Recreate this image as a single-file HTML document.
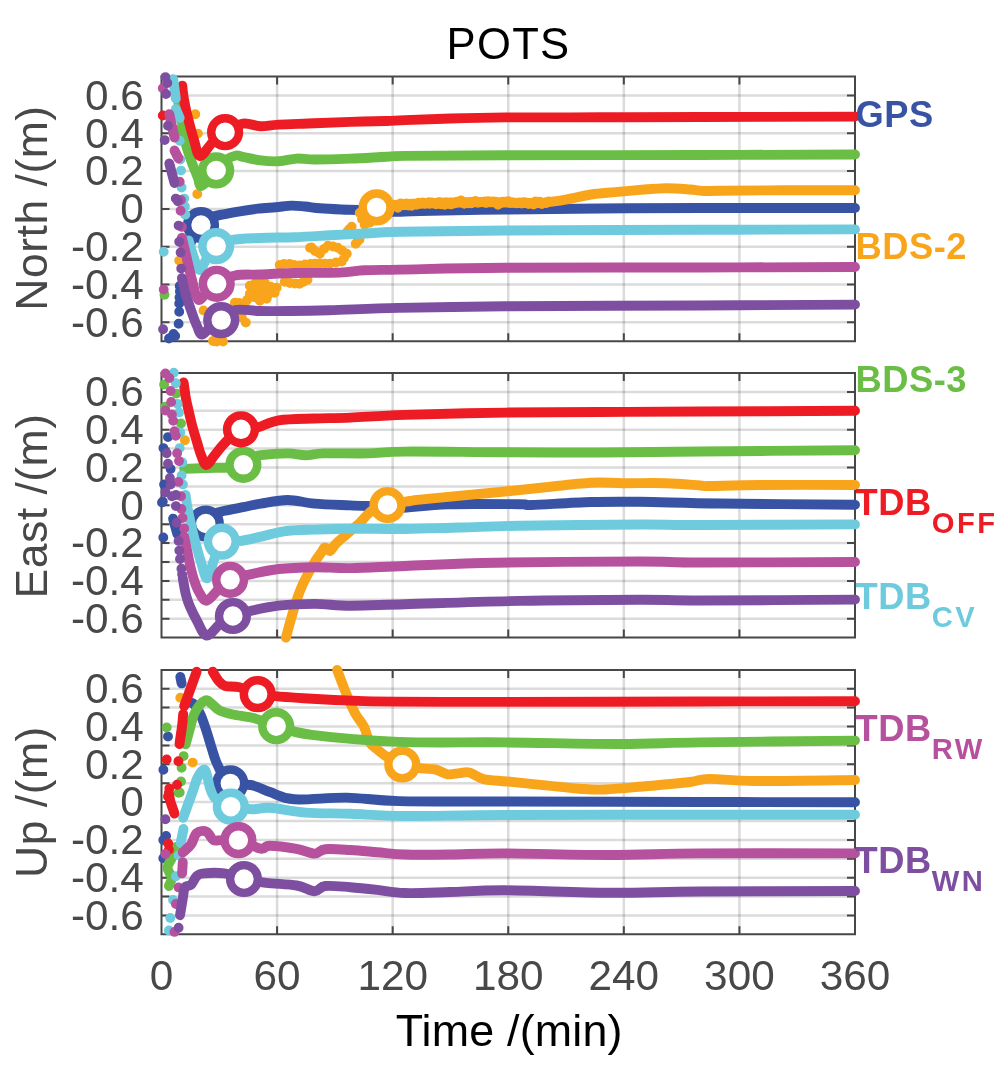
<!DOCTYPE html>
<html><head><meta charset="utf-8"><title>POTS</title>
<style>html,body{margin:0;padding:0;background:#fff;width:1005px;height:1078px;overflow:hidden}
svg{display:block;font-family:"Liberation Sans",sans-serif;will-change:transform}</style></head><body>
<svg width="1005" height="1078" viewBox="0 0 1005 1078">
<rect width="100%" height="100%" fill="#fff"/>
<path d="M277.08 76.60V341.20M392.67 76.60V341.20M508.25 76.60V341.20M623.83 76.60V341.20M739.42 76.60V341.20" stroke="#262626" stroke-opacity="0.165" stroke-width="2.5" fill="none"/>
<path d="M161.50 322.30H855.00M161.50 284.50H855.00M161.50 246.70H855.00M161.50 208.90H855.00M161.50 171.10H855.00M161.50 133.30H855.00M161.50 95.50H855.00" stroke="#262626" stroke-opacity="0.165" stroke-width="2.5" fill="none"/>
<path d="M277.08 373.00V637.60M392.67 373.00V637.60M508.25 373.00V637.60M623.83 373.00V637.60M739.42 373.00V637.60" stroke="#262626" stroke-opacity="0.165" stroke-width="2.5" fill="none"/>
<path d="M161.50 618.70H855.00M161.50 599.80H855.00M161.50 580.90H855.00M161.50 562.00H855.00M161.50 543.10H855.00M161.50 524.20H855.00M161.50 505.30H855.00M161.50 486.40H855.00M161.50 467.50H855.00M161.50 448.60H855.00M161.50 429.70H855.00M161.50 410.80H855.00M161.50 391.90H855.00" stroke="#262626" stroke-opacity="0.165" stroke-width="2.5" fill="none"/>
<path d="M277.08 669.90V934.30M392.67 669.90V934.30M508.25 669.90V934.30M623.83 669.90V934.30M739.42 669.90V934.30" stroke="#262626" stroke-opacity="0.165" stroke-width="2.5" fill="none"/>
<path d="M161.50 915.50H855.00M161.50 896.60H855.00M161.50 877.70H855.00M161.50 858.80H855.00M161.50 839.90H855.00M161.50 821.00H855.00M161.50 802.10H855.00M161.50 783.20H855.00M161.50 764.30H855.00M161.50 745.40H855.00M161.50 726.50H855.00M161.50 707.60H855.00M161.50 688.70H855.00" stroke="#262626" stroke-opacity="0.165" stroke-width="2.5" fill="none"/>
<path d="M161.50 76.60H855.00V341.20H161.50ZM277.08 341.20v-7.0M277.08 76.60v7.0M392.67 341.20v-7.0M392.67 76.60v7.0M508.25 341.20v-7.0M508.25 76.60v7.0M623.83 341.20v-7.0M623.83 76.60v7.0M739.42 341.20v-7.0M739.42 76.60v7.0M161.50 322.30h7.0M855.00 322.30h-7.0M161.50 284.50h7.0M855.00 284.50h-7.0M161.50 246.70h7.0M855.00 246.70h-7.0M161.50 208.90h7.0M855.00 208.90h-7.0M161.50 171.10h7.0M855.00 171.10h-7.0M161.50 133.30h7.0M855.00 133.30h-7.0M161.50 95.50h7.0M855.00 95.50h-7.0" stroke="#474747" stroke-width="2" fill="none" stroke-linecap="square"/>
<path d="M161.50 373.00H855.00V637.60H161.50ZM277.08 637.60v-7.0M277.08 373.00v7.0M392.67 637.60v-7.0M392.67 373.00v7.0M508.25 637.60v-7.0M508.25 373.00v7.0M623.83 637.60v-7.0M623.83 373.00v7.0M739.42 637.60v-7.0M739.42 373.00v7.0M161.50 618.70h7.0M855.00 618.70h-7.0M161.50 599.80h7.0M855.00 599.80h-7.0M161.50 580.90h7.0M855.00 580.90h-7.0M161.50 562.00h7.0M855.00 562.00h-7.0M161.50 543.10h7.0M855.00 543.10h-7.0M161.50 524.20h7.0M855.00 524.20h-7.0M161.50 505.30h7.0M855.00 505.30h-7.0M161.50 486.40h7.0M855.00 486.40h-7.0M161.50 467.50h7.0M855.00 467.50h-7.0M161.50 448.60h7.0M855.00 448.60h-7.0M161.50 429.70h7.0M855.00 429.70h-7.0M161.50 410.80h7.0M855.00 410.80h-7.0M161.50 391.90h7.0M855.00 391.90h-7.0" stroke="#474747" stroke-width="2" fill="none" stroke-linecap="square"/>
<path d="M161.50 669.90H855.00V934.30H161.50ZM277.08 934.30v-7.0M277.08 669.90v7.0M392.67 934.30v-7.0M392.67 669.90v7.0M508.25 934.30v-7.0M508.25 669.90v7.0M623.83 934.30v-7.0M623.83 669.90v7.0M739.42 934.30v-7.0M739.42 669.90v7.0M161.50 915.50h7.0M855.00 915.50h-7.0M161.50 896.60h7.0M855.00 896.60h-7.0M161.50 877.70h7.0M855.00 877.70h-7.0M161.50 858.80h7.0M855.00 858.80h-7.0M161.50 839.90h7.0M855.00 839.90h-7.0M161.50 821.00h7.0M855.00 821.00h-7.0M161.50 802.10h7.0M855.00 802.10h-7.0M161.50 783.20h7.0M855.00 783.20h-7.0M161.50 764.30h7.0M855.00 764.30h-7.0M161.50 745.40h7.0M855.00 745.40h-7.0M161.50 726.50h7.0M855.00 726.50h-7.0M161.50 707.60h7.0M855.00 707.60h-7.0M161.50 688.70h7.0M855.00 688.70h-7.0" stroke="#474747" stroke-width="2" fill="none" stroke-linecap="square"/>
<path d="M186.0 262.0C186.7 259.2 188.5 249.8 190.0 245.0C191.5 240.2 193.2 236.3 195.0 233.0C196.8 229.7 200.0 226.3 201.0 225.0" fill="none" stroke="#3853A4" stroke-width="9.9" stroke-linecap="round" stroke-linejoin="round"/>
<path d="M201.0 225.0C202.8 223.7 208.0 218.8 212.0 217.0C216.0 215.2 220.3 215.0 225.0 214.1C229.7 213.2 234.5 212.2 240.0 211.3C245.5 210.4 252.0 209.4 258.0 208.7C264.0 208.0 270.2 207.7 275.8 207.2C281.4 206.7 286.9 205.7 291.8 205.6C296.7 205.5 300.3 206.1 305.0 206.5C309.7 206.9 313.9 207.8 320.0 208.3C326.1 208.8 334.8 209.2 341.4 209.5C347.9 209.8 350.3 209.6 359.3 210.0C368.3 210.4 385.4 211.7 395.5 211.9C405.6 212.1 401.8 211.4 420.0 211.0C438.2 210.6 475.0 209.9 505.0 209.5C535.0 209.1 567.5 208.8 600.0 208.5C632.5 208.2 657.5 208.1 700.0 208.0C742.5 207.9 829.2 208.0 855.0 208.0" fill="none" stroke="#3853A4" stroke-width="9.9" stroke-linecap="round" stroke-linejoin="round"/>
<path d="M179.7 286.0h0M179.9 291.5h0M179.5 297.5h0M179.2 303.6h0M179.2 311.7h0M178.6 323.8h0M175.2 335.9h0M171.2 337.3h0M173.5 334.0h0M169.0 338.5h0" stroke="#3853A4" stroke-width="9.9" stroke-linecap="round" fill="none"/>
<circle cx="201.0" cy="225.0" r="13.9" fill="#fff" stroke="#3853A4" stroke-width="8.4"/>
<path d="M376.6 207.4C379.7 207.0 387.8 205.7 395.0 205.0C402.2 204.3 406.7 204.0 420.0 203.5C433.3 203.0 456.7 202.1 475.0 202.0C493.3 201.9 518.3 202.9 530.0 203.0C541.7 203.1 538.8 203.1 545.0 202.5C551.2 201.9 559.3 200.6 567.0 199.3C574.7 198.0 583.0 195.7 591.0 194.5C599.0 193.3 606.8 192.9 615.0 192.1C623.2 191.3 631.5 190.6 640.0 189.9C648.5 189.2 657.7 188.3 666.0 188.2C674.3 188.1 683.5 189.0 690.0 189.5C696.5 190.0 700.0 190.8 705.0 191.0C710.0 191.2 707.5 190.8 720.0 190.7C732.5 190.6 757.5 190.4 780.0 190.3C802.5 190.2 842.5 190.3 855.0 190.3" fill="none" stroke="#F9A51B" stroke-width="9.9" stroke-linecap="round" stroke-linejoin="round"/>
<path d="M195.3 114.2h0M197.9 133.6h0M197.3 194.1h0M179.2 260.6h0M203.5 310.4h0M216.7 341.5h0M213.0 341.0h0M249.8 285.8h0M254.8 283.8h0M259.8 283.0h0M264.8 282.8h0M270.7 286.8h0M276.7 287.8h0M249.8 293.7h0M254.0 297.0h0M259.8 300.7h0M266.7 298.7h0M274.7 292.7h0M252.0 290.0h0M262.0 292.0h0M270.0 292.0h0M257.0 288.0h0M247.0 300.0h0M256.0 293.0h0M263.0 287.0h0M268.0 295.0h0M250.0 297.0h0M261.0 296.0h0M272.0 289.0h0M279.7 264.9h0M284.0 264.0h0M289.6 263.9h0M294.0 265.0h0M299.6 265.4h0M305.0 264.5h0M310.5 263.9h0M284.7 281.8h0M290.0 283.0h0M295.0 283.5h0M299.6 283.8h0M303.0 282.0h0M307.5 279.8h0M234.9 302.7h0M239.0 303.0h0M244.9 303.7h0M241.9 317.6h0M245.8 322.6h0M230.0 322.0h0M226.0 332.0h0M223.0 341.5h0M228.0 312.0h0M310.0 247.7h0M315.0 251.0h0M319.9 253.7h0M324.0 249.0h0M327.9 245.7h0M333.0 246.5h0M337.8 247.7h0M342.0 250.5h0M346.8 253.7h0M344.0 258.0h0M341.8 261.6h0M336.0 262.5h0M329.9 263.6h0M324.9 263.6h0M319.9 263.6h0M314.9 263.6h0M309.0 265.0h0M303.0 266.6h0M355.7 243.7h0M357.5 241.5h0M359.5 239.5h0M351.7 226.8h0M349.0 229.5h0M347.0 232.0h0M359.7 212.9h0M362.0 219.0h0M364.7 224.8h0M369.7 222.8h0M311.5 247.5h0M305.0 279.6h0M387.5 205.1h0M390.2 205.4h0M392.3 205.5h0M394.7 205.2h0M395.5 205.2h0M397.9 207.8h0M400.7 203.4h0M401.3 204.8h0M404.3 205.2h0M406.5 203.5h0M408.3 205.6h0M410.2 204.7h0M411.6 205.7h0M413.9 204.2h0M416.4 204.8h0M418.8 202.6h0M419.8 203.8h0M422.9 202.5h0M424.8 203.8h0M425.4 203.6h0M428.9 202.1h0M429.6 203.7h0M432.0 202.5h0M434.2 203.7h0M436.2 204.2h0M438.9 202.2h0M440.7 204.3h0M441.3 202.8h0M444.7 204.7h0M446.1 202.4h0M448.4 203.1h0M450.1 204.3h0M451.6 204.3h0M455.0 203.3h0M455.2 202.8h0M457.3 201.6h0M459.6 202.6h0M461.1 200.5h0M464.2 203.7h0M465.7 202.6h0M468.8 203.3h0M471.0 202.0h0M471.6 203.2h0M473.1 202.6h0M475.4 201.0h0M477.3 202.7h0M479.1 202.6h0M482.9 201.6h0M484.8 201.4h0M486.0 202.9h0M488.3 201.3h0M490.2 201.6h0M492.9 201.4h0M494.4 202.3h0M495.5 201.6h0M498.0 204.8h0M500.1 203.4h0M502.2 202.6h0M503.0 201.6h0M505.1 201.7h0M508.3 201.3h0M509.7 202.9h0M512.4 202.7h0M513.1 202.5h0M516.4 203.4h0M517.9 202.6h0M520.2 202.5h0M521.6 203.6h0M523.7 202.3h0M525.8 202.5h0M528.5 204.1h0M530.5 203.2h0M531.6 203.2h0M533.5 204.5h0M535.4 201.5h0M537.2 203.3h0M539.6 201.8h0M541.9 204.1h0M544.7 202.9h0M546.3 203.1h0M548.8 201.5h0" stroke="#F9A51B" stroke-width="9.9" stroke-linecap="round" fill="none"/>
<circle cx="376.6" cy="207.4" r="13.9" fill="#fff" stroke="#F9A51B" stroke-width="8.4"/>
<path d="M178.4 102.5L181.0 120.6" fill="none" stroke="#6ABD45" stroke-width="9.9" stroke-linecap="round" stroke-linejoin="round"/>
<path d="M181.6 127.1C182.3 130.1 184.3 139.0 186.0 145.0C187.7 151.0 190.0 157.5 192.0 163.0C194.0 168.5 196.5 174.0 197.9 177.8C199.3 181.6 199.0 185.5 200.5 186.0C202.0 186.5 204.4 183.6 207.0 181.0C209.6 178.4 213.0 173.9 216.2 170.4C219.4 166.9 222.7 162.5 226.0 160.0C229.3 157.5 233.2 156.0 236.0 155.5C238.8 155.0 238.8 156.0 242.9 156.8C247.0 157.6 254.8 159.7 260.8 160.4C266.8 161.2 272.7 161.6 278.7 161.3C284.7 161.0 290.6 158.9 296.6 158.6C302.6 158.3 305.6 159.5 314.6 159.5C323.6 159.5 338.5 159.0 350.4 158.6C362.3 158.2 377.1 157.2 386.2 156.8C395.3 156.4 385.2 156.2 405.0 155.9C424.8 155.7 455.8 155.5 505.0 155.3C554.2 155.2 641.7 155.1 700.0 155.0C758.3 154.9 829.2 154.6 855.0 154.5" fill="none" stroke="#6ABD45" stroke-width="9.9" stroke-linecap="round" stroke-linejoin="round"/>
<path d="M164.5 294.8h0" stroke="#6ABD45" stroke-width="9.9" stroke-linecap="round" fill="none"/>
<circle cx="216.2" cy="170.4" r="13.9" fill="#fff" stroke="#6ABD45" stroke-width="8.4"/>
<path d="M182.3 85.6C182.4 86.7 182.5 88.9 182.9 92.1C183.3 95.3 184.0 100.0 185.0 105.0C186.0 110.0 187.5 116.2 189.0 122.0C190.5 127.8 192.2 134.3 194.0 140.0C195.8 145.7 197.0 155.5 200.0 156.0C203.0 156.5 207.8 147.0 212.0 143.0C216.2 139.0 219.9 135.4 225.1 132.2C230.2 129.0 236.9 124.7 242.9 123.7C248.9 122.7 254.8 126.2 260.8 126.3C266.8 126.4 269.7 125.1 278.7 124.6C287.7 124.1 302.7 123.8 314.6 123.3C326.6 122.8 338.5 122.3 350.4 121.9C362.3 121.5 377.1 121.3 386.2 121.0C395.3 120.7 394.4 120.5 405.0 120.1C415.6 119.7 433.3 119.0 450.0 118.5C466.7 118.0 480.0 117.6 505.0 117.4C530.0 117.2 567.5 117.4 600.0 117.3C632.5 117.2 657.5 117.1 700.0 117.0C742.5 116.9 829.2 116.7 855.0 116.6" fill="none" stroke="#ED1C24" stroke-width="9.9" stroke-linecap="round" stroke-linejoin="round"/>
<path d="M162.8 115.5h0" stroke="#ED1C24" stroke-width="9.9" stroke-linecap="round" fill="none"/>
<circle cx="225.1" cy="132.2" r="13.9" fill="#fff" stroke="#ED1C24" stroke-width="8.4"/>
<path d="M173.2 79.1L175.8 98.6" fill="none" stroke="#6DCBDD" stroke-width="9.9" stroke-linecap="round" stroke-linejoin="round"/>
<path d="M175.8 109.0L179.7 118.0" fill="none" stroke="#6DCBDD" stroke-width="9.9" stroke-linecap="round" stroke-linejoin="round"/>
<path d="M188.6 240.4C189.3 242.8 191.2 250.1 193.0 255.0C194.8 259.9 197.1 269.5 199.4 270.0C201.7 270.5 204.2 262.0 207.0 258.0C209.8 254.0 212.1 249.1 216.2 246.1C220.3 243.1 224.3 241.3 231.6 240.0C238.9 238.7 249.6 238.5 260.0 238.0C270.4 237.5 282.7 237.6 294.3 237.2C305.9 236.8 319.0 235.9 329.9 235.3C340.8 234.7 348.0 234.4 359.7 233.8C371.4 233.2 375.8 232.4 400.0 231.8C424.2 231.2 455.0 230.8 505.0 230.5C555.0 230.2 641.7 230.0 700.0 229.8C758.3 229.6 829.2 229.5 855.0 229.4" fill="none" stroke="#6DCBDD" stroke-width="9.9" stroke-linecap="round" stroke-linejoin="round"/>
<path d="M179.7 140.8h0M180.3 159.6h0M181.0 170.6h0M181.6 187.5h0M184.2 198.6h0M184.9 206.4h0M185.3 214.8h0M163.7 251.8h0" stroke="#6DCBDD" stroke-width="9.9" stroke-linecap="round" fill="none"/>
<circle cx="216.2" cy="246.1" r="13.9" fill="#fff" stroke="#6DCBDD" stroke-width="8.4"/>
<path d="M169.3 114.2L174.5 137.5" fill="none" stroke="#B6519E" stroke-width="9.9" stroke-linecap="round" stroke-linejoin="round"/>
<path d="M174.5 150.5L178.4 158.3" fill="none" stroke="#B6519E" stroke-width="9.9" stroke-linecap="round" stroke-linejoin="round"/>
<path d="M181.9 237.7C182.6 240.6 184.3 247.9 186.0 255.0C187.7 262.1 190.0 272.6 192.0 280.0C194.0 287.4 195.6 297.6 198.1 299.6C200.6 301.6 203.9 294.6 207.0 292.0C210.1 289.4 212.0 286.6 216.7 283.8C221.4 281.1 227.9 277.1 235.1 275.5C242.3 273.9 250.1 274.9 260.0 274.5C269.9 274.1 281.0 273.3 294.3 273.0C307.6 272.7 328.2 273.1 339.8 272.6C351.4 272.2 354.0 270.8 364.0 270.3C374.0 269.8 376.5 270.0 400.0 269.6C423.5 269.2 455.0 268.2 505.0 267.8C555.0 267.4 641.7 267.6 700.0 267.5C758.3 267.4 829.2 267.1 855.0 267.0" fill="none" stroke="#B6519E" stroke-width="9.9" stroke-linecap="round" stroke-linejoin="round"/>
<path d="M162.8 88.2h0M179.7 181.7h0M181.0 199.9h0M180.6 210.8h0M181.9 226.9h0M163.7 289.5h0" stroke="#B6519E" stroke-width="9.9" stroke-linecap="round" fill="none"/>
<circle cx="216.7" cy="283.8" r="13.9" fill="#fff" stroke="#B6519E" stroke-width="8.4"/>
<path d="M169.3 163.5L174.5 183.0" fill="none" stroke="#7E4FA0" stroke-width="9.9" stroke-linecap="round" stroke-linejoin="round"/>
<path d="M181.9 278.0C182.6 280.8 184.3 289.2 186.0 295.0C187.7 300.8 190.2 307.8 192.0 313.0C193.8 318.2 195.3 322.4 197.0 326.0C198.7 329.6 199.6 334.8 202.1 334.6C204.6 334.4 208.8 327.4 212.0 325.0C215.2 322.6 217.4 322.6 221.2 320.1C225.0 317.6 228.6 311.5 235.0 310.0C241.4 308.5 250.3 310.8 259.5 311.0C268.7 311.2 278.4 311.1 290.0 311.0C301.6 310.9 311.1 310.8 329.2 310.3C347.3 309.8 369.5 308.6 398.8 307.9C428.1 307.2 454.8 306.6 505.0 306.2C555.2 305.8 641.7 305.8 700.0 305.5C758.3 305.2 829.2 304.8 855.0 304.6" fill="none" stroke="#7E4FA0" stroke-width="9.9" stroke-linecap="round" stroke-linejoin="round"/>
<path d="M165.4 77.1h0M167.3 83.0h0M166.0 94.0h0M168.0 125.8h0M164.7 140.1h0M175.8 198.6h0M177.9 201.3h0M178.6 225.6h0M179.2 241.7h0M180.6 252.5h0M181.2 268.6h0M163.1 329.2h0" stroke="#7E4FA0" stroke-width="9.9" stroke-linecap="round" fill="none"/>
<circle cx="221.2" cy="320.1" r="13.9" fill="#fff" stroke="#7E4FA0" stroke-width="8.4"/>
<path d="M173.1 518.6L177.3 534.0" fill="none" stroke="#3853A4" stroke-width="9.9" stroke-linecap="round" stroke-linejoin="round"/>
<path d="M195.0 530.0C195.8 529.5 198.2 528.1 200.0 527.0C201.8 525.9 203.5 525.7 205.8 523.5C208.1 521.3 210.8 516.1 214.0 514.0C217.2 511.9 220.2 511.9 225.0 510.8C229.8 509.7 236.9 508.4 242.9 507.2C248.9 506.0 253.3 504.8 260.8 503.6C268.3 502.4 278.7 500.0 287.7 500.0C296.7 500.0 304.2 502.7 314.6 503.6C325.1 504.5 339.5 504.9 350.4 505.4C361.3 505.9 371.7 506.1 380.0 506.5C388.3 506.9 388.7 508.4 400.0 508.0C411.3 507.6 427.9 504.8 447.8 504.2C467.7 503.6 505.5 504.1 519.4 504.2C533.3 504.3 519.4 505.4 531.3 505.0C543.2 504.6 572.9 502.5 591.0 502.0C609.1 501.5 618.5 501.6 640.0 501.8C661.5 502.1 684.2 503.0 720.0 503.5C755.8 504.0 832.5 504.5 855.0 504.7" fill="none" stroke="#3853A4" stroke-width="9.9" stroke-linecap="round" stroke-linejoin="round"/>
<path d="M168.0 437.1h0M163.4 448.1h0M170.6 468.9h0M164.1 484.5h0M162.8 501.4h0M162.0 502.6h0M163.3 537.4h0" stroke="#3853A4" stroke-width="9.9" stroke-linecap="round" fill="none"/>
<circle cx="205.8" cy="523.5" r="13.9" fill="#fff" stroke="#3853A4" stroke-width="8.4"/>
<path d="M285.9 637.6C286.8 634.5 289.2 625.2 291.0 619.0C292.8 612.8 294.8 605.8 296.6 600.3C298.4 594.8 299.9 590.8 302.0 586.0C304.1 581.2 306.9 575.9 309.2 571.6C311.5 567.3 313.9 563.3 316.0 560.0C318.1 556.7 320.2 554.0 321.7 551.9C323.2 549.8 323.6 547.6 325.0 547.5C326.4 547.4 328.2 551.6 330.0 551.0C331.8 550.4 332.9 546.8 335.7 544.0C338.5 541.2 342.9 537.5 346.8 534.0C350.7 530.5 355.1 527.2 359.3 523.3C363.5 519.4 367.2 513.8 371.9 510.7C376.6 507.6 381.1 506.6 387.5 505.0C393.9 503.4 404.6 501.9 410.0 501.0C415.4 500.1 409.7 500.7 420.0 499.6C430.3 498.5 457.4 496.0 471.6 494.6C485.8 493.2 493.1 492.7 505.0 491.5C517.0 490.3 529.0 489.0 543.3 487.5C557.6 486.0 577.7 483.4 591.0 482.7C604.3 482.0 610.5 483.1 623.0 483.2C635.5 483.3 653.2 482.8 666.0 483.2C678.8 483.6 692.8 485.0 700.0 485.5C707.2 486.0 699.0 486.1 709.0 486.0C719.0 485.9 735.7 485.2 760.0 485.0C784.3 484.8 839.2 485.0 855.0 485.0" fill="none" stroke="#F9A51B" stroke-width="9.9" stroke-linecap="round" stroke-linejoin="round"/>
<path d="M184.9 440.3h0" stroke="#F9A51B" stroke-width="9.9" stroke-linecap="round" fill="none"/>
<circle cx="387.5" cy="505.0" r="13.9" fill="#fff" stroke="#F9A51B" stroke-width="8.4"/>
<path d="M184.2 468.9C189.3 468.7 207.8 468.0 215.0 467.8C222.2 467.6 223.0 468.1 227.7 467.6C232.4 467.1 239.3 466.4 243.4 464.8C247.5 463.2 249.1 459.6 252.0 458.0C254.9 456.4 254.9 456.0 260.8 455.2C266.8 454.4 280.2 453.4 287.7 453.4C295.2 453.4 299.6 455.2 305.6 455.2C311.6 455.2 313.1 453.7 323.5 453.4C333.9 453.1 354.7 453.7 368.3 453.4C381.9 453.1 382.2 451.8 405.0 451.6C427.8 451.4 472.5 452.1 505.0 452.2C537.5 452.3 567.5 452.6 600.0 452.5C632.5 452.4 657.5 451.9 700.0 451.5C742.5 451.1 829.2 450.4 855.0 450.2" fill="none" stroke="#6ABD45" stroke-width="9.9" stroke-linecap="round" stroke-linejoin="round"/>
<path d="M164.1 384.5h0M176.4 393.6h0M165.4 406.6h0M181.0 423.4h0" stroke="#6ABD45" stroke-width="9.9" stroke-linecap="round" fill="none"/>
<circle cx="243.4" cy="464.8" r="13.9" fill="#fff" stroke="#6ABD45" stroke-width="8.4"/>
<path d="M183.6 382.5C183.8 384.0 184.5 388.7 184.9 391.6C185.3 394.5 185.7 397.3 186.2 400.0C186.7 402.7 187.0 403.8 188.0 408.0C189.0 412.2 190.5 419.3 192.0 425.0C193.5 430.7 195.5 437.0 197.0 442.0C198.5 447.0 199.4 451.2 201.0 455.0C202.6 458.8 204.1 464.8 206.3 465.0C208.5 465.2 211.4 459.2 214.0 456.0C216.6 452.8 219.2 449.2 222.0 446.0C224.8 442.8 227.8 439.8 231.0 437.0C234.2 434.2 236.6 430.9 241.0 429.3C245.4 427.7 250.9 429.0 257.2 427.5C263.5 426.0 269.1 421.8 278.7 420.3C288.3 418.8 302.7 418.9 314.6 418.5C326.6 418.1 335.3 418.2 350.4 417.6C365.5 417.0 379.2 415.7 405.0 414.9C430.8 414.1 472.5 413.1 505.0 412.6C537.5 412.1 567.5 412.2 600.0 412.0C632.5 411.8 657.5 411.7 700.0 411.5C742.5 411.3 829.2 410.9 855.0 410.8" fill="none" stroke="#ED1C24" stroke-width="9.9" stroke-linecap="round" stroke-linejoin="round"/>
<circle cx="241.0" cy="429.3" r="13.9" fill="#fff" stroke="#ED1C24" stroke-width="8.4"/>
<path d="M185.6 495.0C185.8 496.6 186.3 500.5 187.0 504.7C187.7 508.9 188.8 514.7 190.0 520.0C191.2 525.3 192.1 529.7 193.9 536.7C195.7 543.7 198.7 554.8 200.9 561.8C203.1 568.8 205.0 578.7 207.2 578.4C209.4 578.1 211.6 566.1 214.0 560.0C216.4 553.9 217.6 544.7 221.8 541.6C226.0 538.5 232.8 542.0 239.3 541.2C245.8 540.4 253.3 538.4 260.8 536.7C268.3 535.1 275.1 532.5 284.1 531.3C293.1 530.1 303.6 530.0 314.6 529.6C325.7 529.2 335.3 528.8 350.4 528.7C365.5 528.6 386.7 529.2 405.0 529.0C423.3 528.8 440.9 528.0 460.0 527.5C479.1 527.0 489.4 526.2 519.4 525.7C549.4 525.2 609.9 524.6 640.0 524.5C670.1 524.4 664.2 525.0 700.0 525.0C735.8 525.0 829.2 524.5 855.0 524.4" fill="none" stroke="#6DCBDD" stroke-width="9.9" stroke-linecap="round" stroke-linejoin="round"/>
<path d="M173.8 372.8h0M175.8 383.2h0M177.7 404.0h0M179.0 412.4h0M180.3 432.5h0M179.7 448.1h0M182.3 462.4h0M181.6 475.4h0M182.9 484.5h0M184.9 496.2h0" stroke="#6DCBDD" stroke-width="9.9" stroke-linecap="round" fill="none"/>
<circle cx="221.8" cy="541.6" r="13.9" fill="#fff" stroke="#6DCBDD" stroke-width="8.4"/>
<path d="M184.2 536.7C184.7 538.9 186.0 545.3 187.0 550.0C188.0 554.7 188.8 560.0 190.0 565.0C191.2 570.0 192.5 575.5 194.0 580.0C195.5 584.5 196.9 588.5 199.0 592.0C201.1 595.5 203.3 601.0 206.5 600.7C209.7 600.4 214.1 593.5 218.0 590.0C221.9 586.5 225.3 582.3 230.1 579.8C234.8 577.3 238.4 577.0 246.5 575.2C254.6 573.4 267.3 570.3 278.7 569.0C290.1 567.7 302.7 567.4 314.6 567.2C326.6 567.1 335.3 568.3 350.4 568.1C365.5 567.9 380.8 566.9 405.0 566.0C429.2 565.1 456.3 563.5 495.5 562.7C534.7 562.0 605.9 561.5 640.0 561.5C674.1 561.5 664.2 562.4 700.0 562.5C735.8 562.6 829.2 562.1 855.0 562.0" fill="none" stroke="#B6519E" stroke-width="9.9" stroke-linecap="round" stroke-linejoin="round"/>
<path d="M165.4 373.4h0M169.3 378.0h0M170.6 391.0h0M171.2 402.0h0M165.4 410.5h0M171.9 414.4h0M173.2 420.8h0M174.5 431.2h0M175.8 435.8h0M177.1 453.3h0M179.0 461.1h0M178.4 481.9h0M181.0 496.2h0M181.4 508.9h0M182.5 518.0h0M184.2 528.4h0" stroke="#B6519E" stroke-width="9.9" stroke-linecap="round" fill="none"/>
<circle cx="230.1" cy="579.8" r="13.9" fill="#fff" stroke="#B6519E" stroke-width="8.4"/>
<path d="M182.8 578.4C183.3 581.2 184.8 590.4 186.0 595.0C187.2 599.6 188.0 602.1 189.8 606.3C191.6 610.5 193.9 615.3 196.7 620.2C199.5 625.1 202.6 634.9 206.5 635.5C210.4 636.1 215.6 627.2 220.0 624.0C224.4 620.8 227.9 618.2 232.9 616.0C237.9 613.8 242.5 612.7 250.1 611.0C257.7 609.3 267.9 606.9 278.7 605.7C289.4 604.5 302.7 603.9 314.6 603.9C326.6 603.9 335.3 605.7 350.4 605.7C365.5 605.8 376.8 605.0 405.0 604.2C433.2 603.4 480.2 601.6 519.4 600.9C558.6 600.1 609.9 599.8 640.0 599.7C670.1 599.6 664.2 600.5 700.0 600.5C735.8 600.5 829.2 599.8 855.0 599.6" fill="none" stroke="#7E4FA0" stroke-width="9.9" stroke-linecap="round" stroke-linejoin="round"/>
<path d="M166.7 453.3h0M168.0 463.7h0M169.9 478.0h0M170.6 484.5h0M165.4 492.3h0M171.9 496.2h0M175.9 495.0h0M175.9 506.1h0M176.6 522.8h0M178.6 540.9h0M179.3 550.6h0M180.0 559.0h0M181.4 568.7h0M182.1 574.3h0" stroke="#7E4FA0" stroke-width="9.9" stroke-linecap="round" fill="none"/>
<circle cx="232.9" cy="616.0" r="13.9" fill="#fff" stroke="#7E4FA0" stroke-width="8.4"/>
<path d="M180.3 676.9L181.6 683.4" fill="none" stroke="#3853A4" stroke-width="9.9" stroke-linecap="round" stroke-linejoin="round"/>
<path d="M186.0 702.0C187.3 702.4 191.6 702.1 194.0 704.2C196.4 706.3 198.3 709.8 200.5 714.5C202.7 719.2 205.1 726.9 207.0 732.7C208.9 738.6 210.6 744.8 212.1 749.6C213.6 754.4 214.3 757.2 216.0 761.3C217.7 765.4 220.1 770.6 222.5 774.3C224.9 778.0 225.3 781.5 230.3 783.4C235.3 785.2 245.9 784.0 252.5 785.4C259.1 786.8 263.0 789.7 270.0 792.0C277.0 794.3 281.5 798.4 294.3 799.3C307.1 800.2 329.2 797.3 346.6 797.6C364.0 797.9 372.4 800.5 398.8 801.1C425.2 801.8 454.8 801.4 505.0 801.5C555.2 801.6 641.7 801.9 700.0 802.0C758.3 802.1 829.2 802.2 855.0 802.2" fill="none" stroke="#3853A4" stroke-width="9.9" stroke-linecap="round" stroke-linejoin="round"/>
<path d="M168.0 736.6h0M163.4 769.7h0M166.1 835.9h0M163.3 840.1h0M163.3 858.2h0" stroke="#3853A4" stroke-width="9.9" stroke-linecap="round" fill="none"/>
<circle cx="230.3" cy="783.4" r="13.9" fill="#fff" stroke="#3853A4" stroke-width="8.4"/>
<path d="M337.2 669.9C338.7 673.9 343.4 686.7 346.4 694.0C349.4 701.3 352.3 708.0 355.2 713.5C358.1 719.0 361.6 722.0 364.0 726.7C366.4 731.4 367.2 738.0 369.3 741.7C371.4 745.4 373.3 746.1 376.4 748.7C379.5 751.3 383.5 754.9 387.8 757.5C392.1 760.1 396.7 762.7 402.3 764.5C407.9 766.3 415.9 767.5 421.5 768.4C427.1 769.2 431.4 768.6 435.8 769.6C440.2 770.6 443.8 773.7 447.8 774.3C451.8 774.9 456.1 773.4 459.7 773.1C463.3 772.8 465.3 771.5 469.3 772.5C473.3 773.5 477.2 777.6 483.6 779.1C490.0 780.6 497.6 780.5 507.5 781.5C517.5 782.5 531.4 783.9 543.3 785.1C555.2 786.3 568.8 788.0 579.1 788.7C589.4 789.4 593.8 790.0 605.3 789.5C616.8 789.0 633.9 787.2 648.0 786.0C662.1 784.8 679.8 783.2 690.0 782.0C700.2 780.8 698.4 779.1 709.2 778.9C720.0 778.7 730.7 780.8 755.0 781.0C779.3 781.2 838.3 780.2 855.0 780.0" fill="none" stroke="#F9A51B" stroke-width="9.9" stroke-linecap="round" stroke-linejoin="round"/>
<path d="M180.3 697.7h0M192.7 762.6h0" stroke="#F9A51B" stroke-width="9.9" stroke-linecap="round" fill="none"/>
<circle cx="402.3" cy="764.5" r="13.9" fill="#fff" stroke="#F9A51B" stroke-width="8.4"/>
<path d="M185.5 744.4C186.1 742.5 187.4 737.7 188.8 732.7C190.2 727.7 192.1 719.2 194.0 714.5C195.9 709.8 198.3 706.6 200.5 704.2C202.7 701.8 205.1 700.3 207.0 700.3C208.9 700.3 209.9 702.5 212.1 704.2C214.2 705.9 216.4 708.9 219.9 710.6C223.4 712.3 227.1 713.2 232.9 714.5C238.8 715.8 247.8 716.4 255.0 718.4C262.2 720.4 266.8 723.5 276.2 726.2C285.6 729.0 291.3 732.3 311.7 734.9C332.1 737.5 366.6 740.6 398.8 741.9C431.0 743.1 468.1 742.0 505.0 742.4C541.9 742.8 587.5 744.0 620.0 744.0C652.5 744.0 660.8 743.0 700.0 742.4C739.2 741.8 829.2 740.9 855.0 740.6" fill="none" stroke="#6ABD45" stroke-width="9.9" stroke-linecap="round" stroke-linejoin="round"/>
<path d="M175.9 847.0C175.2 848.9 173.1 854.7 171.7 858.2C170.3 861.7 167.5 864.7 167.5 867.9C167.5 871.1 171.5 874.6 171.7 877.6C171.9 880.6 169.4 884.6 168.9 886.0" fill="none" stroke="#6ABD45" stroke-width="9.9" stroke-linecap="round" stroke-linejoin="round"/>
<path d="M166.7 727.5h0M183.6 756.1h0M181.6 767.8h0M181.0 781.4h0M179.7 792.5h0M178.6 792.8h0" stroke="#6ABD45" stroke-width="9.9" stroke-linecap="round" fill="none"/>
<circle cx="276.2" cy="726.2" r="13.9" fill="#fff" stroke="#6ABD45" stroke-width="8.4"/>
<path d="M184.2 706.1L196.6 671.7" fill="none" stroke="#ED1C24" stroke-width="9.9" stroke-linecap="round" stroke-linejoin="round"/>
<path d="M212.8 671.7C213.8 673.2 216.6 678.4 218.6 680.8C220.6 683.2 221.6 684.9 225.1 686.0C228.6 687.1 234.0 685.9 239.4 687.3C244.8 688.6 248.5 692.4 257.7 694.1C266.8 695.8 276.6 696.4 294.3 697.6C312.0 698.8 328.9 700.4 364.0 701.1C399.1 701.8 449.0 701.8 505.0 701.9C561.0 702.0 641.7 701.6 700.0 701.5C758.3 701.4 829.2 701.2 855.0 701.2" fill="none" stroke="#ED1C24" stroke-width="9.9" stroke-linecap="round" stroke-linejoin="round"/>
<path d="M168.9 792.8C169.1 794.2 169.6 798.3 170.3 801.1C171.0 803.9 172.4 807.4 173.1 809.5C173.8 811.6 174.3 812.9 174.5 813.6" fill="none" stroke="#ED1C24" stroke-width="9.9" stroke-linecap="round" stroke-linejoin="round"/>
<path d="M183.2 714.0C183.1 715.2 182.8 718.7 182.6 721.0C182.4 723.3 182.1 725.5 181.8 728.0C181.5 730.5 181.0 733.3 180.6 736.0C180.2 738.7 179.7 742.7 179.5 744.0" fill="none" stroke="#ED1C24" stroke-width="9.9" stroke-linecap="round" stroke-linejoin="round"/>
<path d="M166.7 759.4h0M178.4 761.3h0M177.1 784.7h0M169.3 788.6h0M168.0 796.4h0M168.2 843.5h0M168.9 849.8h0" stroke="#ED1C24" stroke-width="9.9" stroke-linecap="round" fill="none"/>
<circle cx="257.7" cy="694.1" r="13.9" fill="#fff" stroke="#ED1C24" stroke-width="8.4"/>
<path d="M183.2 817.8C184.6 813.8 189.4 800.5 191.9 793.7C194.4 786.9 195.7 781.0 197.9 777.0C200.1 773.0 203.1 768.1 205.1 769.9C207.1 771.7 208.4 783.3 209.9 787.8C211.4 792.3 212.0 794.5 214.0 797.0C216.0 799.5 219.2 801.4 222.0 803.0C224.8 804.6 225.8 805.7 230.8 806.7C235.8 807.8 245.4 809.1 251.9 809.3C258.4 809.5 260.9 807.2 269.8 807.8C278.8 808.3 292.2 811.6 305.6 812.6C319.0 813.6 333.8 813.2 350.4 813.8C367.0 814.4 379.2 815.8 405.0 816.0C430.8 816.2 455.8 815.2 505.0 815.0C554.2 814.8 641.7 814.8 700.0 814.7C758.3 814.7 829.2 814.7 855.0 814.7" fill="none" stroke="#6DCBDD" stroke-width="9.9" stroke-linecap="round" stroke-linejoin="round"/>
<path d="M183.5 828.9L180.7 842.9" fill="none" stroke="#6DCBDD" stroke-width="9.9" stroke-linecap="round" stroke-linejoin="round"/>
<path d="M178.6 855.4h0M175.9 876.2h0M173.1 899.9h0M170.3 918.0h0M168.9 930.5h0" stroke="#6DCBDD" stroke-width="9.9" stroke-linecap="round" fill="none"/>
<circle cx="230.8" cy="806.7" r="13.9" fill="#fff" stroke="#6DCBDD" stroke-width="8.4"/>
<path d="M182.8 852.6C184.2 851.2 188.9 847.5 191.2 844.2C193.5 841.0 194.1 835.2 196.7 833.1C199.2 831.0 203.7 830.5 206.5 831.7C209.3 832.9 210.8 838.7 213.4 840.1C216.0 841.5 217.8 840.1 222.0 840.1C226.2 840.1 231.9 839.0 238.4 840.4C244.9 841.8 255.6 847.8 260.8 848.7C266.0 849.6 263.8 845.7 269.8 845.7C275.8 845.7 289.1 847.6 296.6 848.9C304.1 850.2 309.8 853.5 314.6 853.6C319.4 853.7 319.3 849.8 325.3 849.2C331.3 848.6 341.8 849.5 350.4 850.0C359.0 850.5 368.1 851.5 377.2 852.3C386.3 853.0 392.9 854.1 405.0 854.5C417.1 854.9 433.3 854.7 450.0 854.5C466.7 854.3 478.3 853.3 505.0 853.4C531.7 853.5 577.5 855.0 610.0 855.0C642.5 855.0 659.2 853.7 700.0 853.4C740.8 853.1 829.2 853.4 855.0 853.4" fill="none" stroke="#B6519E" stroke-width="9.9" stroke-linecap="round" stroke-linejoin="round"/>
<path d="M182.8 862.3L182.1 873.4" fill="none" stroke="#B6519E" stroke-width="9.9" stroke-linecap="round" stroke-linejoin="round"/>
<path d="M178.6 887.4h0M175.9 904.0h0M174.5 931.9h0M165.4 854.0h0" stroke="#B6519E" stroke-width="9.9" stroke-linecap="round" fill="none"/>
<circle cx="238.4" cy="840.1" r="13.9" fill="#fff" stroke="#B6519E" stroke-width="8.4"/>
<path d="M180.0 915.2C180.5 912.4 182.0 903.1 182.8 898.5C183.6 893.9 183.5 889.7 184.9 887.4C186.3 885.1 189.2 886.5 191.2 884.6C193.2 882.7 194.6 878.1 196.7 876.2C198.8 874.3 199.1 873.9 203.7 873.4C208.3 872.9 217.8 872.5 224.5 873.4C231.2 874.3 237.1 877.4 244.0 879.0C250.9 880.6 257.4 881.7 266.2 882.8C275.0 883.9 288.5 884.1 296.6 885.5C304.7 886.9 309.8 891.1 314.6 891.2C319.4 891.3 319.3 886.7 325.3 886.0C331.3 885.3 341.8 886.6 350.4 887.2C359.0 887.9 368.1 888.9 377.2 889.9C386.3 890.9 392.9 892.6 405.0 893.0C417.1 893.4 433.3 892.5 450.0 892.0C466.7 891.5 478.3 890.2 505.0 890.3C531.7 890.4 577.5 892.6 610.0 892.8C642.5 893.0 659.2 891.8 700.0 891.5C740.8 891.2 829.2 891.1 855.0 891.0" fill="none" stroke="#7E4FA0" stroke-width="9.9" stroke-linecap="round" stroke-linejoin="round"/>
<path d="M165.4 819.2h0M178.6 927.7h0" stroke="#7E4FA0" stroke-width="9.9" stroke-linecap="round" fill="none"/>
<circle cx="244.0" cy="879.0" r="13.9" fill="#fff" stroke="#7E4FA0" stroke-width="8.4"/>
<text x="143.8" y="336.5" text-anchor="end" font-size="42.3" letter-spacing="0.0" fill="#48484a">-0.6</text>
<text x="143.8" y="298.7" text-anchor="end" font-size="42.3" letter-spacing="0.0" fill="#48484a">-0.4</text>
<text x="143.8" y="260.9" text-anchor="end" font-size="42.3" letter-spacing="0.0" fill="#48484a">-0.2</text>
<text x="143.8" y="223.1" text-anchor="end" font-size="42.3" letter-spacing="0.0" fill="#48484a">0</text>
<text x="143.8" y="185.3" text-anchor="end" font-size="42.3" letter-spacing="0.0" fill="#48484a">0.2</text>
<text x="143.8" y="147.5" text-anchor="end" font-size="42.3" letter-spacing="0.0" fill="#48484a">0.4</text>
<text x="143.8" y="109.7" text-anchor="end" font-size="42.3" letter-spacing="0.0" fill="#48484a">0.6</text>
<text x="143.8" y="632.9" text-anchor="end" font-size="42.3" letter-spacing="0.0" fill="#48484a">-0.6</text>
<text x="143.8" y="595.1" text-anchor="end" font-size="42.3" letter-spacing="0.0" fill="#48484a">-0.4</text>
<text x="143.8" y="557.3" text-anchor="end" font-size="42.3" letter-spacing="0.0" fill="#48484a">-0.2</text>
<text x="143.8" y="519.5" text-anchor="end" font-size="42.3" letter-spacing="0.0" fill="#48484a">0</text>
<text x="143.8" y="481.7" text-anchor="end" font-size="42.3" letter-spacing="0.0" fill="#48484a">0.2</text>
<text x="143.8" y="443.9" text-anchor="end" font-size="42.3" letter-spacing="0.0" fill="#48484a">0.4</text>
<text x="143.8" y="406.1" text-anchor="end" font-size="42.3" letter-spacing="0.0" fill="#48484a">0.6</text>
<text x="143.8" y="929.7" text-anchor="end" font-size="42.3" letter-spacing="0.0" fill="#48484a">-0.6</text>
<text x="143.8" y="891.9" text-anchor="end" font-size="42.3" letter-spacing="0.0" fill="#48484a">-0.4</text>
<text x="143.8" y="854.1" text-anchor="end" font-size="42.3" letter-spacing="0.0" fill="#48484a">-0.2</text>
<text x="143.8" y="816.3" text-anchor="end" font-size="42.3" letter-spacing="0.0" fill="#48484a">0</text>
<text x="143.8" y="778.5" text-anchor="end" font-size="42.3" letter-spacing="0.0" fill="#48484a">0.2</text>
<text x="143.8" y="740.7" text-anchor="end" font-size="42.3" letter-spacing="0.0" fill="#48484a">0.4</text>
<text x="143.8" y="702.9" text-anchor="end" font-size="42.3" letter-spacing="0.0" fill="#48484a">0.6</text>
<text x="161.5" y="989.6" text-anchor="middle" font-size="42.3" letter-spacing="0.0" fill="#48484a">0</text>
<text x="277.1" y="989.6" text-anchor="middle" font-size="42.3" letter-spacing="0.0" fill="#48484a">60</text>
<text x="392.7" y="989.6" text-anchor="middle" font-size="42.3" letter-spacing="0.0" fill="#48484a">120</text>
<text x="508.2" y="989.6" text-anchor="middle" font-size="42.3" letter-spacing="0.0" fill="#48484a">180</text>
<text x="623.8" y="989.6" text-anchor="middle" font-size="42.3" letter-spacing="0.0" fill="#48484a">240</text>
<text x="739.4" y="989.6" text-anchor="middle" font-size="42.3" letter-spacing="0.0" fill="#48484a">300</text>
<text x="855.0" y="989.6" text-anchor="middle" font-size="42.3" letter-spacing="0.0" fill="#48484a">360</text>
<text transform="translate(46.8 208.0) rotate(-90)" text-anchor="middle" font-size="44.5" letter-spacing="0.5" fill="#48484a">North /(m)</text>
<text transform="translate(46.8 506.0) rotate(-90)" text-anchor="middle" font-size="44.5" letter-spacing="0.5" fill="#48484a">East /(m)</text>
<text transform="translate(46.8 802.0) rotate(-90)" text-anchor="middle" font-size="44.5" letter-spacing="0.5" fill="#48484a">Up /(m)</text>
<text x="509.2" y="1045.8" text-anchor="middle" font-size="44.8" letter-spacing="0.2" fill="#000">Time /(min)</text>
<text x="508.5" y="58.6" text-anchor="middle" font-size="43.6" letter-spacing="1.3" fill="#000">POTS</text>
<text x="855.5" y="126.5" font-size="36.3" font-weight="bold" letter-spacing="0.5" fill="#3853A4">GPS</text>
<text x="855.5" y="259.0" font-size="36.3" font-weight="bold" letter-spacing="0.5" fill="#F9A51B">BDS-2</text>
<text x="855.5" y="392.0" font-size="36.3" font-weight="bold" letter-spacing="0.5" fill="#6ABD45">BDS-3</text>
<text x="855.5" y="515.0" font-size="36.3" font-weight="bold" letter-spacing="0.5" fill="#ED1C24">TDB</text>
<text x="931.8" y="533.3" font-size="29.2" font-weight="bold" letter-spacing="2.4" fill="#ED1C24">OFF</text>
<text x="855.5" y="608.8" font-size="36.3" font-weight="bold" letter-spacing="0.5" fill="#6DCBDD">TDB</text>
<text x="931.8" y="627.1" font-size="29.2" font-weight="bold" letter-spacing="2.4" fill="#6DCBDD">CV</text>
<text x="855.5" y="740.8" font-size="36.3" font-weight="bold" letter-spacing="0.5" fill="#B6519E">TDB</text>
<text x="931.8" y="759.1" font-size="29.2" font-weight="bold" letter-spacing="2.4" fill="#B6519E">RW</text>
<text x="855.5" y="872.9" font-size="36.3" font-weight="bold" letter-spacing="0.5" fill="#7E4FA0">TDB</text>
<text x="931.8" y="891.2" font-size="29.2" font-weight="bold" letter-spacing="2.4" fill="#7E4FA0">WN</text>
</svg>
</body></html>
